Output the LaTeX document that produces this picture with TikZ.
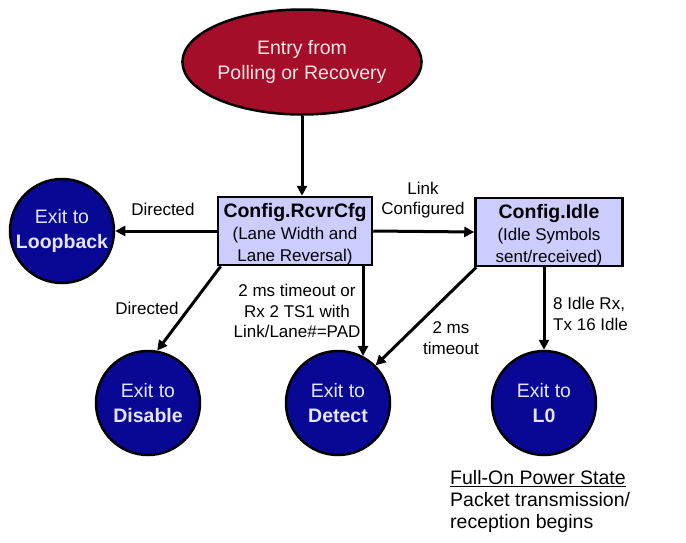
\documentclass[tikz,border=0pt]{standalone}
\usepackage{fontspec}
\setmainfont{Liberation Sans}
\usetikzlibrary{shapes.geometric,arrows.meta}
\definecolor{entryred}{RGB}{165,14,40}
\definecolor{exitblue}{RGB}{8,8,148}
\definecolor{statefill}{RGB}{204,204,255}
\newcommand{\bigtext}{\fontsize{19.5}{24.5}\selectfont}
\newcommand{\midtext}{\fontsize{17}{20.5}\selectfont}
\newcommand{\boxtext}{\fontsize{17}{22}\selectfont}
\newcommand{\titletext}{\fontsize{19.5}{22}\selectfont\bfseries\rule{0pt}{20pt}}
\begin{document}
\begin{tikzpicture}[x=1pt,y=-1pt, >={Triangle[length=10pt,width=10pt]},
  entrynode/.style={ellipse,draw,line width=2.5pt,fill=entryred,text=white!90!red,
    minimum width=223pt,minimum height=105pt,inner sep=0pt,align=center,font=\bigtext},
  exitnode/.style={circle,draw,line width=2.5pt,fill=exitblue,text=white!90!blue,
    minimum size=104pt,inner sep=0pt,align=center,font=\bigtext},
  statebox/.style={rectangle,draw,line width=2.5pt,fill=statefill,
    minimum height=68pt,inner sep=0pt,align=center,font=\boxtext},
  cond/.style={align=center,inner sep=0pt,font=\midtext},
  trans/.style={->,line width=3pt}]
\useasboundingbox (0,0) rectangle (686,542);
% states
\node[entrynode] (entry) at (302,62) {Entry from\\Polling or Recovery};
\node[statebox,minimum width=154pt] (rcvr) at (295,231)
  {{\titletext Config.RcvrCfg}\\(Lane Width and\\Lane Reversal)};
\node[statebox,minimum width=147pt] (idle) at (549,232)
  {{\titletext Config.Idle}\\(Idle Symbols\\sent/received)};
\node[exitnode] (loop) at (62,231) {Exit to\\\textbf{Loopback}};
\node[exitnode] (disable) at (148,403) {Exit to\\\textbf{Disable}};
\node[exitnode] (detect) at (338,403) {Exit to\\\textbf{Detect}};
\node[exitnode] (l0) at (544,403) {Exit to\\\textbf{L0}};
% transitions
\draw[trans] (entry.south) -- (entry.south |- rcvr.north);
\draw[trans] (rcvr.west) -- (loop.east);
\draw[trans] (rcvr.east) -- (idle.west);
\draw[trans] ([xshift=4pt]rcvr.south west) -- (disable.80);
\draw[trans] (detect.62 |- rcvr.south) -- (detect.62);
\draw[trans] ([xshift=2pt]idle.south west) -- (detect.45);
\draw[trans] (l0.north |- idle.south) -- (l0.north);
% labels
\node[cond] (lbl-loop) at (163,209) {Directed};
\node[cond] (lbl-link) at (423,200) {Link\\Configured};
\node[cond] (lbl-disable) at (147,308) {Directed};
\node[cond] (lbl-detect) at (297,311) {2 ms timeout or\\Rx 2 TS1 with\\Link/Lane\#=PAD};
\node[cond] (lbl-timeout) at (451,338) {2 ms\\timeout};
\node[cond,align=left,anchor=west] (lbl-l0) at (553,314) {8 Idle Rx,\\Tx 16 Idle};
\node[align=left,anchor=north west,inner sep=0pt,font=\fontsize{19.5}{22}\selectfont]
  (note) at (450,470) {\underline{Full-On Power State}\\Packet transmission/\\reception begins};
\end{tikzpicture}
\end{document}
